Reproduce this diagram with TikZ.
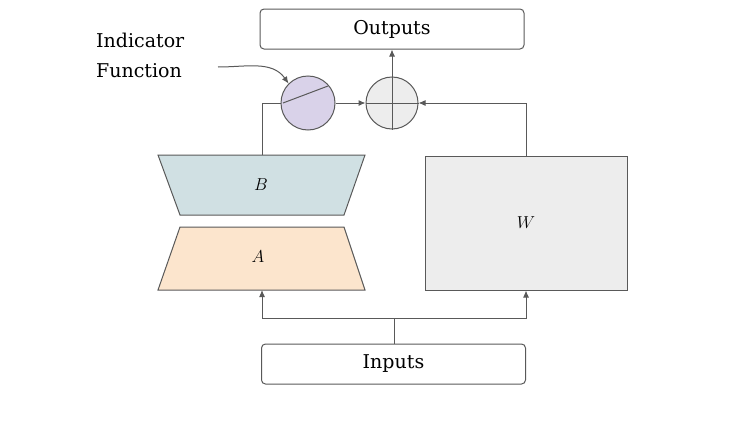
\documentclass[tikz,border=0pt]{standalone}
\usepackage{fontspec}
\setmainfont{DejaVu Serif}
\usetikzlibrary{arrows.meta}
\begin{document}
\begin{tikzpicture}[x=1pt,y=-1pt,
  box/.style={draw=black!65,line width=1pt,rounded corners=4pt,minimum width=264pt,minimum height=40pt,font=\fontsize{19}{22}\selectfont},
  ln/.style={draw=black!65,line width=1pt},
  ar/.style={ln,-{Latex[length=7pt,width=6pt]}},
  lbl/.style={font=\fontsize{19}{22}\selectfont}]
\useasboundingbox (0,0) rectangle (731,442);
\node[box] (out) at (392,29) {Outputs};
\node[box] (in) at (393.5,364) {Inputs};
\node[ln,fill={rgb,255:red,217;green,210;blue,233},circle,minimum size=54pt,inner sep=0pt] (ind) at (308,103) {};
\draw[ln] (283,103) -- (328,86);
\node[ln,fill=black!7,circle,minimum size=52pt,inner sep=0pt] (plus) at (392,103) {};
\draw[ln] (plus.north) -- (plus.south) (plus.west) -- (plus.east);
\draw[ln,fill={rgb,255:red,208;green,224;blue,227}] (158,155) -- (365,155) -- (344,215) -- (180,215) -- cycle;
\node[lbl] (B) at (261,185) {$B$};
\draw[ln,fill={rgb,255:red,252;green,229;blue,205}] (180,227) -- (344,227) -- (365,290) -- (158,290) -- cycle;
\node[lbl] (A) at (258,257) {$A$};
\node[ln,fill=black!7,minimum width=202pt,minimum height=134pt,inner sep=0pt] (W) at (526,223) {};
\node[lbl] at (W) {$W$};
\coordinate (btop) at (262,155);
\coordinate (abot) at (262,290);
\draw[ln] (btop) |- (ind.west);
\draw[ar] (ind.east) -- (plus.west);
\draw[ar] (W.north) |- (plus.east);
\draw[ar] (plus.north) -- (out.south);
\coordinate (j) at (394,318);
\draw[ln] (in.north -| j) -- (j);
\draw[ar] (j) -| (abot);
\draw[ar] (j) -| (W.south);
\node[lbl,align=left,anchor=north west,inner sep=0pt] (txt) at (96,33) {Indicator\\[8pt]Function};
\coordinate (cs) at (218,67);
\draw[ar] (cs) to[out=0,in=125] (ind.north west);
\end{tikzpicture}
\end{document}
